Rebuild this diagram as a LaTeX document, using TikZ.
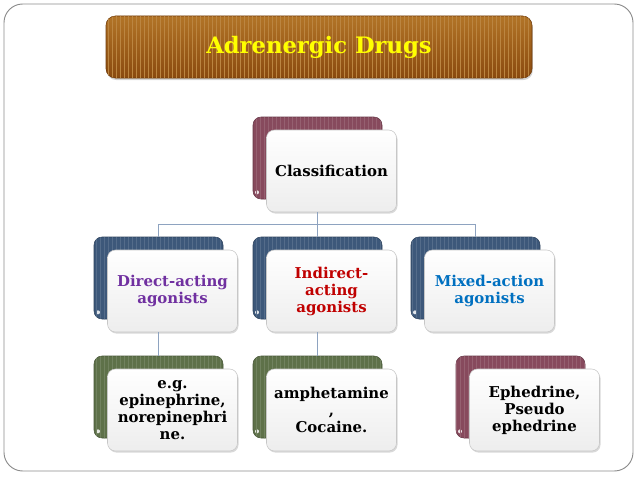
\documentclass[tikz,border=0pt]{standalone}
\usepackage{fontspec}
\setmainfont{DejaVu Serif}
\usetikzlibrary{shadows,patterns}

\definecolor{rosecard}{HTML}{874A5D}
\definecolor{slatecard}{HTML}{3D587A}
\definecolor{olivecard}{HTML}{5E7149}
\definecolor{brownhi}{HTML}{B27427}
\definecolor{brownlo}{HTML}{8A4A0F}
\definecolor{linkblue}{HTML}{8EA3C0}
\definecolor{txtpurple}{HTML}{7030A0}
\definecolor{txtred}{HTML}{C00000}
\definecolor{txtblue}{HTML}{0070C0}
\definecolor{txtyellow}{HTML}{FFFF00}

\tikzset{
  stripes/.style={postaction={pattern=vertical lines, pattern color=#1}},
  backcard/.style={rounded corners=6pt, minimum width=96.75pt, minimum height=61.5pt,
    fill=#1, draw=#1!75!black, stripes=#1!88!white,
    path picture={\fill[white,opacity=0.85] ([xshift=3pt,yshift=5pt]path picture bounding box.south west) circle (1.5pt);}},
  frontcard/.style={rounded corners=6pt, minimum width=97.5pt, minimum height=61.5pt,
    text width=94pt, align=center, inner sep=1pt,
    top color=white, bottom color=black!7, draw=black!22,
    drop shadow={opacity=0.3, shadow xshift=0.8pt, shadow yshift=-1.2pt},
    font=\bfseries\fontsize{11.2}{12.75}\selectfont},
  link/.style={draw=linkblue, line width=0.6pt},
}

\begin{document}
\begin{tikzpicture}[x=0.75pt, y=-0.75pt]
    \useasboundingbox (0,0) rectangle (638,478);
    % slide frame
    \draw[black!45, line width=0.7pt, rounded corners=14pt] (4,4) rectangle (633,471);

    % title
    \node[rounded corners=7pt, minimum width=319.5pt, minimum height=46.5pt,
          top color=brownhi, bottom color=brownlo, draw=brownlo!80!black,
          stripes=brownhi!88!white,
          drop shadow={opacity=0.35, shadow xshift=0.6pt, shadow yshift=-1.5pt},
          text=txtyellow, font=\bfseries\fontsize{17}{20}\selectfont]
        (title) at (319,47) {Adrenergic Drugs};

    % back cards
    \node[backcard=rosecard] (clsback) at (317.5,158) {};
    \node[backcard=slatecard] (dirback) at (158.5,278) {};
    \node[backcard=slatecard] (indback) at (317.5,278) {};
    \node[backcard=slatecard] (mixback) at (475.5,278) {};
    \node[backcard=olivecard] (ex1back) at (158.5,397) {};
    \node[backcard=olivecard] (ex2back) at (317.5,397) {};
    \node[backcard=rosecard] (ex3back) at (520.5,397) {};

    % front cards
    \node[frontcard] (cls) at (331.5,171) {Classification};
    \node[frontcard, text=txtpurple] (dir) at (172.5,291) {Direct-acting\\agonists};
    \node[frontcard, text=txtred] (ind) at (331.5,291) {Indirect-\\acting\\agonists};
    \node[frontcard, text=txtblue] (mix) at (489.5,291) {Mixed-action\\agonists};
    \node[frontcard] (ex1) at (172.5,410) {e.g.\\epinephrine,\\norepinephri\\ne.};
    \node[frontcard] (ex2) at (331.5,410) {amphetamine\\,\\Cocaine.};
    \node[frontcard] (ex3) at (534.5,410) {Ephedrine,\\Pseudo\\ephedrine};

    % connectors
    \coordinate (bus) at (317.5,224);
    \draw[link] (clsback |- cls.south) -- (bus);
    \draw[link] (dirback.north) -- (dirback |- bus) -- (mixback |- bus) -- (mixback.north);
    \draw[link] (bus) -- (indback.north);
    \draw[link] (dirback |- dir.south) -- (ex1back.north);
    \draw[link] (indback |- ind.south) -- (ex2back.north);
\end{tikzpicture}
\end{document}
